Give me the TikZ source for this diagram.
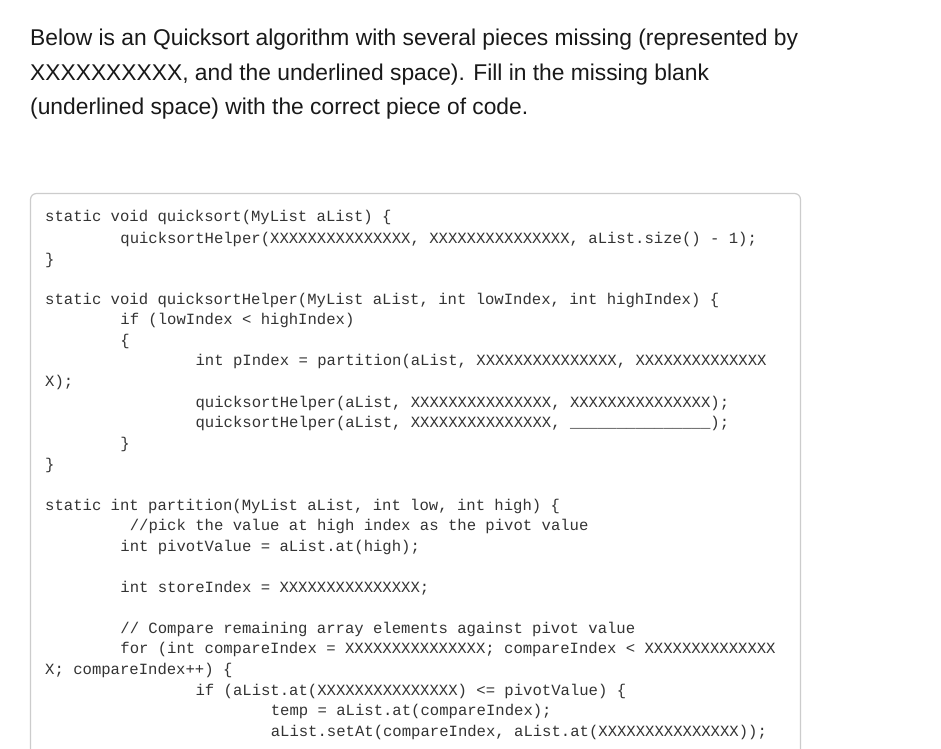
\documentclass[tikz,border=0pt]{standalone}
\usepackage{fontspec}
\setmainfont{Liberation Sans}
\setmonofont{Liberation Mono}
\definecolor{txt}{HTML}{333333}
\begin{document}
\begin{tikzpicture}[x=1pt,y=-1pt,
  head/.style={anchor=base west,inner sep=0pt,font=\fontsize{22.8}{27}\selectfont,text=black!90},
  code/.style={anchor=base west,inner sep=0pt,font=\fontsize{15.6}{18}\ttfamily,text=txt}]
\useasboundingbox[fill=white] (0,0) rectangle (941,748);
\node[head] (h1) at (30,45) {Below is an Quicksort algorithm with several pieces missing (represented by};
\node[head] (h2) at (30,80) {XXXXXXXXXX, and the underlined space). Fill in the missing blank};
\node[head] (h3) at (30,114) {(underlined space) with the correct piece of code.};
\draw[draw=black!20,line width=1.2pt,rounded corners=6pt] (30.5,193.5) rectangle (800.5,800);
\def\cl#1#2#3{\node[code] at ({45+#1*9.4},{#2+5}) {#3};}
\cl{0}{216}{static void quicksort(MyList aList) \{}
\cl{8}{238}{quicksortHelper(XXXXXXXXXXXXXXX, XXXXXXXXXXXXXXX, aList.size() - 1);}
\cl{0}{259}{\}}
\cl{0}{299}{static void quicksortHelper(MyList aList, int lowIndex, int highIndex) \{}
\cl{8}{319}{if (lowIndex < highIndex)}
\cl{8}{340}{\{}
\cl{16}{360}{int pIndex = partition(aList, XXXXXXXXXXXXXXX, XXXXXXXXXXXXXX}
\cl{0}{381}{X);}
\cl{16}{402}{quicksortHelper(aList, XXXXXXXXXXXXXXX, XXXXXXXXXXXXXXX);}
\cl{16}{422}{quicksortHelper(aList, XXXXXXXXXXXXXXX, \_\_\_\_\_\_\_\_\_\_\_\_\_\_\_);}
\cl{8}{443}{\}}
\cl{0}{464}{\}}
\cl{0}{505}{static int partition(MyList aList, int low, int high) \{}
\cl{9}{525}{//pick the value at high index as the pivot value}
\cl{8}{546}{int pivotValue = aList.at(high);}
\cl{8}{587}{int storeIndex = XXXXXXXXXXXXXXX;}
\cl{8}{628}{// Compare remaining array elements against pivot value}
\cl{8}{648}{for (int compareIndex = XXXXXXXXXXXXXXX; compareIndex < XXXXXXXXXXXXXX}
\cl{0}{669}{X; compareIndex++) \{}
\cl{16}{690}{if (aList.at(XXXXXXXXXXXXXXX) <= pivotValue) \{}
\cl{24}{710}{temp = aList.at(compareIndex);}
\cl{24}{731}{aList.setAt(compareIndex, aList.at(XXXXXXXXXXXXXXX));}
\end{tikzpicture}
\end{document}
